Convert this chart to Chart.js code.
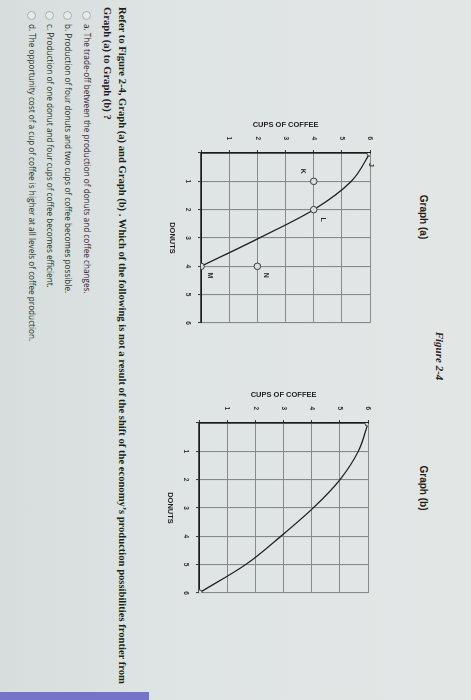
<!DOCTYPE html>
<html>
<head>
<meta charset="utf-8">
<script src="https://cdn.jsdelivr.net/npm/chart.js@4.4.1/dist/chart.umd.min.js"></script>
<style>
html,body{margin:0;padding:0;width:471px;height:700px;overflow:hidden;background:#dde3e2;}
/* the photo is a page turned a quarter turn clockwise: build it upright, then rotate */
#page{position:absolute;left:471px;top:0;width:700px;height:471px;transform-origin:0 0;transform:rotate(90deg);
  background:linear-gradient(to bottom,#e2e7e6 0%,#dfe5e4 60%,#d6dddc 100%);}
.t{position:absolute;white-space:nowrap;color:#1e1e1e;}
.box{position:absolute;}
.radio{position:absolute;width:7px;height:7px;border-radius:50%;border:1px solid #a9aeae;background:#e6eaea;}
.opt{position:absolute;white-space:nowrap;font-family:"Open Sans",sans-serif;font-size:8.2px;color:#2a2a2a;line-height:10px;}
</style>
</head>
<body>
<div id="page">
  <div class="t" style="left:356px;top:31px;transform:translate(-50%,-50%);font-family:'Liberation Serif',serif;font-size:11px;font-style:italic;font-weight:bold;">Figure 2-4</div>
  <div class="t" style="left:217px;top:48px;transform:translate(-50%,-50%);font-family:'Liberation Sans',sans-serif;font-size:10px;font-weight:bold;">Graph (a)</div>
  <div class="t" style="left:488px;top:48px;transform:translate(-50%,-50%);font-family:'Liberation Sans',sans-serif;font-size:10px;font-weight:bold;">Graph (b)</div>

  <div class="box" style="left:120px;top:87px;width:213px;height:217px;"><canvas id="chartA"></canvas></div>
  <div class="box" style="left:390px;top:89px;width:213px;height:217px;"><canvas id="chartB"></canvas></div>

  <div class="t" style="left:7px;top:343px;line-height:12px;font-family:'Liberation Serif',serif;font-size:10.6px;font-weight:bold;">Refer to Figure 2-4, Graph (a) and Graph (b) . Which of the following is not a result of the shift of the economy’s production possibilities frontier from</div>
  <div class="t" style="left:7px;top:358px;line-height:12px;font-family:'Liberation Serif',serif;font-size:10.6px;font-weight:bold;">Graph (a) to Graph (b) ?</div>

  <div class="radio" style="left:11px;top:380px;"></div>
  <div class="opt" style="left:24px;top:379px;">a. The trade-off between the production of donuts and coffee changes.</div>
  <div class="radio" style="left:11px;top:399px;"></div>
  <div class="opt" style="left:24px;top:398px;">b. Production of four donuts and two cups of coffee becomes possible.</div>
  <div class="radio" style="left:11px;top:417px;"></div>
  <div class="opt" style="left:24px;top:416px;">c. Production of one donut and four cups of coffee becomes efficient.</div>
  <div class="radio" style="left:11px;top:435px;"></div>
  <div class="opt" style="left:24px;top:434px;">d. The opportunity cost of a cup of coffee is higher at all levels of coffee production.</div>

  <div style="position:absolute;left:692px;top:322px;width:8px;height:149px;background:#7574c9;"></div>
</div>

<script>
// Graph (a): production possibilities frontier, donuts on x, cups of coffee on y
const ppfADonuts = [0, 1, 2, 3, 4];
const ppfACoffee = [6, 5.33, 4, 2.07, 0];

// Graph (b): frontier after the shift
const ppfBDonuts = [0, 1, 2, 3, 4, 5, 6];
const ppfBCoffee = [6, 5.65, 5, 4.05, 2.9, 1.65, 0];

// marked points in graph (a)
const pointNames  = ['J', 'K', 'L', 'M', 'N'];
const pointDonuts = [0, 1, 2, 4, 4];
const pointCoffee = [6, 4, 4, 0, 2];

// end points marked in graph (b)
const endDonutsB = [0, 6];
const endCoffeeB = [6, 0];

const axisMin = 0, axisMax = 6;
const tickLabels = ['', '1', '2', '3', '4', '5', '6'];

// label offsets (px) for the point names
const labelDx = [12, -10, 10, 9, 9];
const labelDy = [-1, 11, -9, -9, -9];

const pointLabels = {
  id:'pointLabels',
  afterDatasetsDraw(chart, args, opts){
    if(!opts.names) return;
    const {ctx, scales:{x, y}} = chart;
    ctx.save();
    ctx.font = 'bold 7px "Liberation Sans", sans-serif';
    ctx.fillStyle = '#2b2b2b';
    ctx.textAlign = 'center';
    ctx.textBaseline = 'middle';
    opts.names.forEach((n,i)=>{
      ctx.fillText(n, x.getPixelForValue(opts.xs[i]) + opts.dx[i], y.getPixelForValue(opts.ys[i]) + opts.dy[i]);
    });
    ctx.restore();
  }
};

function zip(xs, ys){ return xs.map((v,i)=>({x:v, y:ys[i]})); }

function axis(titleText, isX){
  return {
    type:'linear', min:axisMin, max:axisMax,
    ticks:{
      stepSize:1, color:'#333', padding:isX ? 6 : 10,
      font:{family:'Liberation Sans', size:6.5, weight:'bold'},
      callback:(v)=>tickLabels[v] ?? ''
    },
    grid:{color:'#858b8b', lineWidth:1.1, tickLength:3, tickColor:'#333', tickWidth:1},
    border:{color:'#1c1c1c', width:1.7},
    title:{
      display:true, text:titleText, color:'#1e1e1e',
      font:{family:'Liberation Sans', size:7.5, weight:'bold'},
      padding:{top:0.5, bottom:0.5}
    },
    afterFit:(s)=>{ if(isX) s.height = 34; else s.width = 33; }
  };
}

function makeChart(id, curve, marks, labels){
  const ctx = document.getElementById(id);
  return new Chart(ctx, {
    type:'scatter',
    data:{
      datasets:[
        {
          data:curve, showLine:true, fill:false,
          borderColor:'#1f1f1f', borderWidth:1.3,
          cubicInterpolationMode:'monotone',
          pointRadius:0, order:2
        },
        {
          data:marks, showLine:false,
          pointRadius:3.3, pointBackgroundColor:'#d9dede',
          pointBorderColor:'#3a3a3a', pointBorderWidth:1, order:1
        }
      ]
    },
    options:{
      responsive:true,
      maintainAspectRatio:false,
      animation:false,
      layout:{padding:{top:12, right:10, left:0, bottom:0}},
      plugins:{
        legend:{display:false},
        tooltip:{enabled:false},
        pointLabels:labels
      },
      scales:{
        x:axis('DONUTS', true),
        y:axis('CUPS OF COFFEE', false)
      }
    },
    plugins:[pointLabels]
  });
}

makeChart('chartA', zip(ppfADonuts, ppfACoffee), zip(pointDonuts, pointCoffee),
  {names:pointNames, xs:pointDonuts, ys:pointCoffee, dx:labelDx, dy:labelDy});
makeChart('chartB', zip(ppfBDonuts, ppfBCoffee), zip(endDonutsB, endCoffeeB), {});
</script>
</body>
</html>
